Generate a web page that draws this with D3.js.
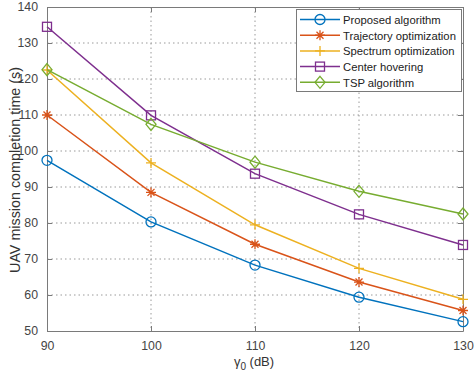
<!DOCTYPE html>
<html><head><meta charset="utf-8">
<script src="https://cdn.jsdelivr.net/npm/d3@7"></script>
<style>body{margin:0;background:#fff;} svg{display:block;font-family:"Liberation Sans",Arial,sans-serif;}</style>
</head><body>
<svg id="c" width="474" height="381"></svg>
<script>
const xValues = [90, 100, 110, 120, 130];
const seriesNames = ["Proposed algorithm", "Trajectory optimization", "Spectrum optimization", "Center hovering", "TSP algorithm"];
const proposed = [97.4, 80.3, 68.3, 59.4, 52.6];
const trajectory = [110.0, 88.5, 74.1, 63.6, 55.7];
const spectrum = [122.5, 96.7, 79.5, 67.4, 58.8];
const centerHover = [134.5, 109.9, 93.7, 82.4, 73.9];
const tsp = [122.6, 107.4, 96.9, 88.8, 82.5];
const xTicks = [90, 100, 110, 120, 130];
const yTicks = [50, 60, 70, 80, 90, 100, 110, 120, 130, 140];
const colors = ["#0072BD", "#D95319", "#EDB120", "#7E2F8E", "#77AC30"];
const markers = ["circle", "star", "plus", "square", "diamond"];
const allSeries = [proposed, trajectory, spectrum, centerHover, tsp];

const svg = d3.select("#c");
const L = 47, R = 463, T = 7, B = 331;
const x = d3.scaleLinear().domain([90, 130]).range([L, R]);
const y = d3.scaleLinear().domain([50, 140]).range([B, T]);
const axisCol = "#7a7a7a", textCol = "#444";

function fit(sel, target) {
  const fs = +sel.attr("font-size");
  const w = sel.node().getComputedTextLength();
  sel.attr("font-size", (fs * target / w).toFixed(2));
}

// grid
const g = svg.append("g");
g.selectAll(".gx").data(xTicks.slice(1, -1)).enter().append("line")
  .attr("x1", d => x(d)).attr("x2", d => x(d)).attr("y1", T).attr("y2", B)
  .attr("stroke", "#9a9a9a").attr("stroke-width", 1).attr("stroke-dasharray", "1.5,3");
g.selectAll(".gy").data(yTicks.slice(1, -1)).enter().append("line")
  .attr("y1", d => y(d)).attr("y2", d => y(d)).attr("x1", L).attr("x2", R)
  .attr("stroke", "#9a9a9a").attr("stroke-width", 1).attr("stroke-dasharray", "1.5,3");

// axes
const xAxis = d3.axisBottom(x).tickValues(xTicks).tickSizeInner(-5).tickSizeOuter(0).tickPadding(10);
const yAxis = d3.axisLeft(y).tickValues(yTicks).tickSizeInner(-5).tickSizeOuter(0).tickPadding(9);
const gx = svg.append("g").attr("transform", `translate(0,${B})`).call(xAxis);
const gy = svg.append("g").attr("transform", `translate(${L},0)`).call(yAxis);
const gxt = svg.append("g").attr("transform", `translate(0,${T})`).call(d3.axisTop(x).tickValues(xTicks).tickSizeInner(-5).tickSizeOuter(0).tickFormat(""));
const gyr = svg.append("g").attr("transform", `translate(${R},0)`).call(d3.axisRight(y).tickValues(yTicks).tickSizeInner(-5).tickSizeOuter(0).tickFormat(""));
[gx, gy, gxt, gyr].forEach(a => {
  a.selectAll("path,line").attr("stroke", axisCol).attr("stroke-width", 1);
  a.selectAll("text").attr("fill", textCol).attr("font-size", 12.3).attr("font-family", '"Liberation Sans",Arial,sans-serif');
});

function drawMarker(sel, type, cx, cy, col) {
  const s = 5;
  if (type === "circle") sel.append("circle").attr("cx", cx).attr("cy", cy).attr("r", s).attr("fill", "none").attr("stroke", col).attr("stroke-width", 1.3);
  else if (type === "square") sel.append("rect").attr("x", cx - 4.5).attr("y", cy - 4.5).attr("width", 9).attr("height", 9).attr("fill", "none").attr("stroke", col).attr("stroke-width", 1.3);
  else if (type === "diamond") sel.append("path").attr("d", `M${cx},${cy - 6}L${cx + 5},${cy}L${cx},${cy + 6}L${cx - 5},${cy}Z`).attr("fill", "none").attr("stroke", col).attr("stroke-width", 1.3);
  else if (type === "plus") sel.append("path").attr("d", `M${cx - 5},${cy}H${cx + 5}M${cx},${cy - 5}V${cy + 5}`).attr("stroke", col).attr("stroke-width", 1.3);
  else if (type === "star") sel.append("path").attr("d", `M${cx - 5},${cy}H${cx + 5}M${cx},${cy - 5}V${cy + 5}M${cx - 3.5},${cy - 3.5}L${cx + 3.5},${cy + 3.5}M${cx - 3.5},${cy + 3.5}L${cx + 3.5},${cy - 3.5}`).attr("stroke", col).attr("stroke-width", 1.3);
}

const line = d3.line().x((d, i) => x(xValues[i])).y(d => y(d));
allSeries.forEach((s, k) => {
  const gg = svg.append("g");
  gg.append("path").datum(s).attr("d", line).attr("fill", "none").attr("stroke", colors[k]).attr("stroke-width", 1.5);
  s.forEach((v, i) => drawMarker(gg, markers[k], x(xValues[i]), y(v), colors[k]));
});

// legend
const lg = svg.append("g");
lg.append("rect").attr("x", 296.5).attr("y", 9.5).attr("width", 165).attr("height", 82).attr("fill", "#fff").attr("stroke", axisCol).attr("stroke-width", 1);
const lt = [];
seriesNames.forEach((n, k) => {
  const yy = 19.5 + k * 15.7;
  lg.append("line").attr("x1", 300).attr("x2", 340).attr("y1", yy).attr("y2", yy).attr("stroke", colors[k]).attr("stroke-width", 1.5);
  drawMarker(lg, markers[k], 320, yy, colors[k]);
  lt.push(lg.append("text").attr("x", 343).attr("y", yy + 4.5).attr("font-size", 13).attr("fill", "#222").text(n));
});
const probe = lt[1];
fit(probe, 113);
lt.forEach(t => t.attr("font-size", probe.attr("font-size")));

// labels
const yl = svg.append("text").attr("transform", `translate(20,170) rotate(-90)`).attr("text-anchor", "middle")
  .attr("font-size", 14).attr("fill", "#333").text("UAV mission completion time (s)");
fit(yl, 206);
const xl = svg.append("text").attr("x", 254).attr("y", 366).attr("text-anchor", "middle").attr("font-size", 13).attr("fill", "#333");
xl.append("tspan").text("γ");
xl.append("tspan").attr("font-size", 10).attr("dy", 4).text("0");
xl.append("tspan").attr("dy", -4).text(" (dB)");
</script>
</body></html>
